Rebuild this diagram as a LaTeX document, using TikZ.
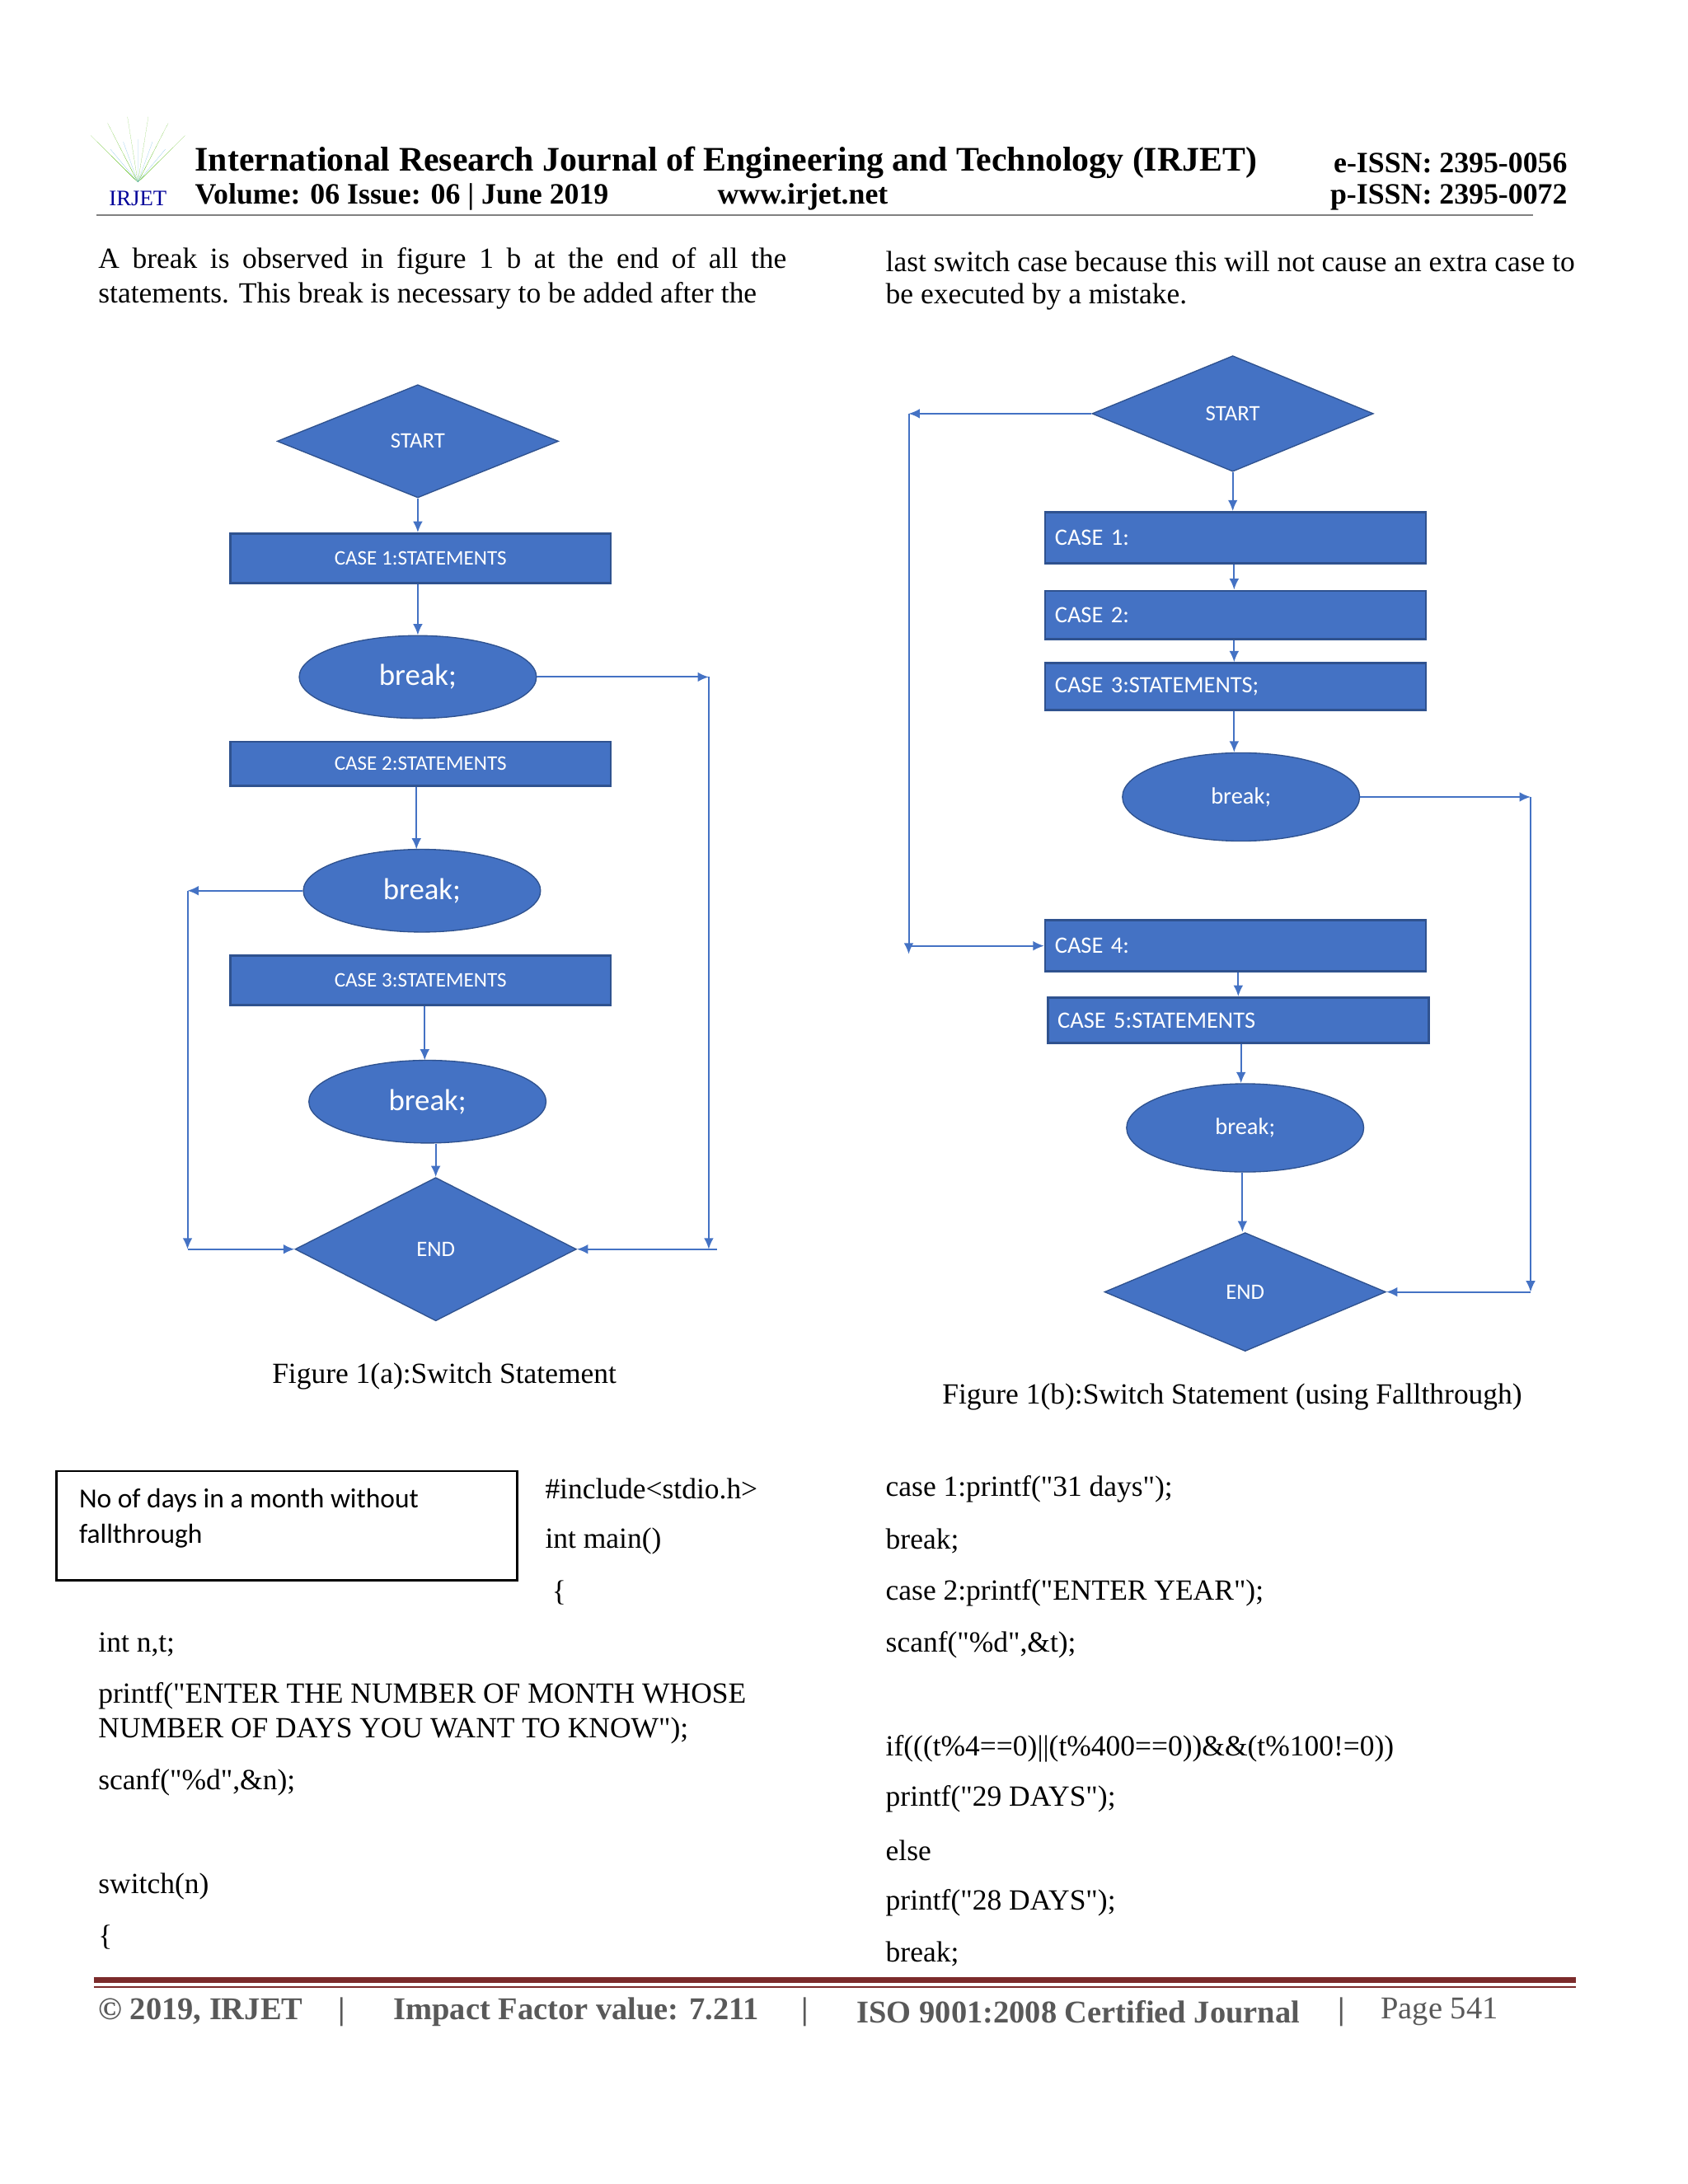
\documentclass[tikz,border=0pt]{standalone}
\usepackage{fontspec}
\setmainfont{Liberation Serif}[Ligatures=TeXOff]
\newfontfamily\calf{Carlito}
\usetikzlibrary{shapes.geometric,arrows.meta}
\definecolor{fb}{HTML}{4472C4}
\definecolor{fd}{HTML}{2F528F}
\definecolor{ln}{HTML}{4472C4}
\definecolor{dr}{HTML}{7B2B2B}
\newcommand\dq{\symbol{34}}
\begin{document}
\begin{tikzpicture}[x=0.5pt,y=-0.5pt,
 dia/.style={diamond,fill=fb,draw=fd,inner sep=0pt,text=white,font=\calf\fontsize{8}{9}\selectfont},
 box/.style={rectangle,fill=fb,draw=fd,line width=0.8pt,inner sep=0pt,text=white,font=\calf\fontsize{7.5}{9}\selectfont},
 rbox/.style={box,minimum width=138pt,text width=131pt,align=left,font=\calf\fontsize{8.5}{9}\selectfont},
 ell/.style={ellipse,fill=fb,draw=fd,inner sep=0pt,text=white},
 ar/.style={draw=ln,line width=0.6pt,-{Latex[length=4pt,width=3.5pt]}},
 tx/.style={anchor=west,inner sep=0pt,font=\fontsize{10.6}{12.4}\selectfont},
 hd/.style={anchor=west,inner sep=0pt,font=\bfseries\fontsize{12.5}{14}\selectfont},
 hs/.style={hd,font=\bfseries\fontsize{10.7}{12}\selectfont}]
\useasboundingbox (0,0) rectangle (1224,1584);
\fill[white] (0,0) rectangle (1224,1584);
% logo
\foreach \a in {-50,-30,-10,10,30,50}{\fill[green!60!black!70!yellow] (100,132) -- ++(90+\a:2pt) -- ++(90+\a*0.9:22pt) -- cycle;}
\foreach \a in {-40,-20,0,20,40}{\fill[cyan!70!blue] (100,132) -- ++(90+\a:1.5pt) -- ++(90+\a:14pt) -- cycle;}
\node[inner sep=0pt,font=\fontsize{8}{9}\selectfont,text=blue!60!black] (logo) at (100,144) {IRJET};
\node[hd] (h1) at (141,118) {International Research Journal of Engineering and Technology (IRJET)};
\node[hs] (h2) at (141,143) {Volume: 06 Issue: 06 | June 2019};
\node[hs] (h3) at (520,143) {www.irjet.net};
\node[hs,anchor=east] (h4) at (1137,118) {e-ISSN: 2395-0056};
\node[hs,anchor=east] (h5) at (1137,143) {p-ISSN: 2395-0072};
\draw[gray,line width=0.6pt] (70,156) -- (1112,156);
% paragraphs
\node[tx,text width=249.5pt,align=justify] (p1) at (71,202) {\hyphenpenalty=10000 A break is observed in figure 1 b at the end of all the\linebreak statements. This break is necessary to be added after the};
\node[tx] (p3) at (642,190) {last switch case because this will not cause an extra case to};
\node[tx] (p4) at (642,215) {be executed by a mistake.};
% left chart
\node[dia,minimum width=102pt,minimum height=41pt,aspect=2.5] (s) at (303,320) {START};
\node[box,minimum width=138pt,minimum height=18pt] (c1) at (305,405) {CASE 1:STATEMENTS};
\node[ell,minimum width=86pt,minimum height=30pt,font=\calf\fontsize{11}{12}\selectfont] (b1) at (303,491) {break;};
\node[box,minimum width=138pt,minimum height=16pt] (c2) at (305,554) {CASE 2:STATEMENTS};
\node[ell,minimum width=86pt,minimum height=30pt,font=\calf\fontsize{11}{12}\selectfont] (b2) at (306,646) {break;};
\node[box,minimum width=138pt,minimum height=18pt] (c3) at (305,711) {CASE 3:STATEMENTS};
\node[ell,minimum width=86pt,minimum height=30pt,font=\calf\fontsize{11}{12}\selectfont] (b3) at (310,799) {break;};
\node[dia,minimum width=102pt,minimum height=52pt,aspect=2] (e) at (316,906) {END};
\draw[ar] (s.south) -- (c1.north-|s.south);
\draw[ar] (c1.south-|b1) -- (b1.north);
\draw[ar] (c2.south-|302,0) -- (302,616);
\draw[ar] (c3.south-|308,0) -- (308,769);
\draw[ar] (b3.south-|316,0) -- (e.north);
\coordinate (r1) at (514,491); \coordinate (r2) at (514,906); \coordinate (r3) at (520,906);
\draw[ar] (b1.east) -- (r1); \draw[ar] (r1) -- (r2); \draw[ar] (r3) -- (e.east);
\coordinate (l1) at (136,646); \coordinate (l2) at (136,906);
\draw[ar] (b2.west) -- (l1); \draw[ar] (l1) -- (l2); \draw[ar] (l2) -- (e.west);
\node[tx] (f1) at (197,998) {Figure 1(a):Switch Statement};
% right chart
\node[dia,minimum width=102pt,minimum height=42pt,aspect=2.45] (S) at (894,300) {START};
\node[rbox,minimum height=18.5pt] (C1) at (896,390) {CASE 1:};
\node[rbox,minimum height=17.5pt] (C2) at (896,446) {CASE 2:};
\node[rbox,minimum height=17pt] (C3) at (896,498) {CASE 3:STATEMENTS;};
\node[ell,minimum width=86pt,minimum height=32pt,font=\calf\fontsize{8.5}{9}\selectfont] (B1) at (900,578) {break;};
\node[rbox,minimum height=18.5pt] (C4) at (896,686) {CASE 4:};
\node[rbox,minimum height=16.5pt] (C5) at (898,740) {CASE 5:STATEMENTS};
\node[ell,minimum width=86pt,minimum height=32pt,font=\calf\fontsize{8.5}{9}\selectfont] (B2) at (903,818) {break;};
\node[dia,minimum width=102pt,minimum height=43pt,aspect=2.4] (E) at (903,937) {END};
\draw[ar] (S.south) -- (C1.north-|S.south);
\draw[ar] (C1.south-|895,0) -- (C2.north-|895,0);
\draw[ar] (C2.south-|895,0) -- (C3.north-|895,0);
\draw[ar] (C3.south-|895,0) -- (B1.north-|895,0);
\draw[ar] (C4.south-|898,0) -- (C5.north-|898,0);
\draw[ar] (C5.south-|900,0) -- (B2.north-|900,0);
\draw[ar] (B2.south-|901,0) -- (E.north-|901,0);
\coordinate (R1) at (1110,578); \coordinate (R2) at (1110,937);
\draw[ar] (B1.east) -- (R1); \draw[ar] (R1) -- (R2); \draw[ar] (R2) -- (E.east);
\coordinate (L1) at (659,300); \coordinate (L2) at (659,692); \coordinate (L3) at (659,686);
\draw[ar] (S.west) -- (L1); \draw[ar] (L1) -- (L2); \draw[ar] (L3) -- (C4.west);
\node[tx] (f2) at (683,1013) {Figure 1(b):Switch Statement (using Fallthrough)};
% bottom
\draw[line width=0.8pt] (41,1067) rectangle (375,1146);
\node[tx,font=\calf\fontsize{10}{11}\selectfont] (n1) at (57,1088) {No of days in a month without};
\node[tx,font=\calf\fontsize{10}{11}\selectfont] (n2) at (57,1114) {fallthrough};
\node[tx] (k1) at (395,1080) {\#include<stdio.h>};
\node[tx] (k2) at (395,1118) {int main()};
\node[tx] (k3) at (400,1155) {\{};
\node[tx] (k4) at (71,1193) {int n,t;};
\node[tx] (k5) at (71,1230) {printf(\dq ENTER THE NUMBER OF MONTH WHOSE};
\node[tx] (k6) at (71,1255) {NUMBER OF DAYS YOU WANT TO KNOW\dq);};
\node[tx] (k7) at (71,1293) {scanf(\dq\%d\dq,\&n);};
\node[tx] (k8) at (71,1368) {switch(n)};
\node[tx] (k9) at (71,1405) {\{};
\node[tx] (m1) at (642,1080) {case 1:printf(\dq 31 days\dq);};
\node[tx] (m2) at (642,1118) {break;};
\node[tx] (m3) at (642,1155) {case 2:printf(\dq ENTER YEAR\dq);};
\node[tx] (m4) at (642,1193) {scanf(\dq\%d\dq,\&t);};
\node[tx] (m5) at (642,1268) {if(((t\%4==0)||(t\%400==0))\&\&(t\%100!=0))};
\node[tx] (m6) at (642,1305) {printf(\dq 29 DAYS\dq);};
\node[tx] (m7) at (642,1342) {else};
\node[tx] (m8) at (642,1380) {printf(\dq 28 DAYS\dq);};
\node[tx] (m9) at (642,1417) {break;};
% footer
\draw[dr,line width=2pt] (68,1436) -- (1143,1436);
\draw[dr,line width=0.6pt] (68,1441) -- (1143,1441);
\begin{scope}[every node/.style={tx,text=black!65,font=\bfseries\fontsize{11.5}{13}\selectfont}]
\node (g1) at (71,1459) {© 2019, IRJET};
\node (g2) at (245,1459) {|};
\node (g3) at (285,1459) {Impact Factor value: 7.211};
\node (g4) at (581,1459) {|};
\node (g5) at (621,1459) {ISO 9001:2008 Certified Journal};
\node (g6) at (970,1459) {|};
\node[font=\fontsize{11.5}{13}\selectfont] (g7) at (1001,1459) {Page 541};
\end{scope}
\end{tikzpicture}
\end{document}
